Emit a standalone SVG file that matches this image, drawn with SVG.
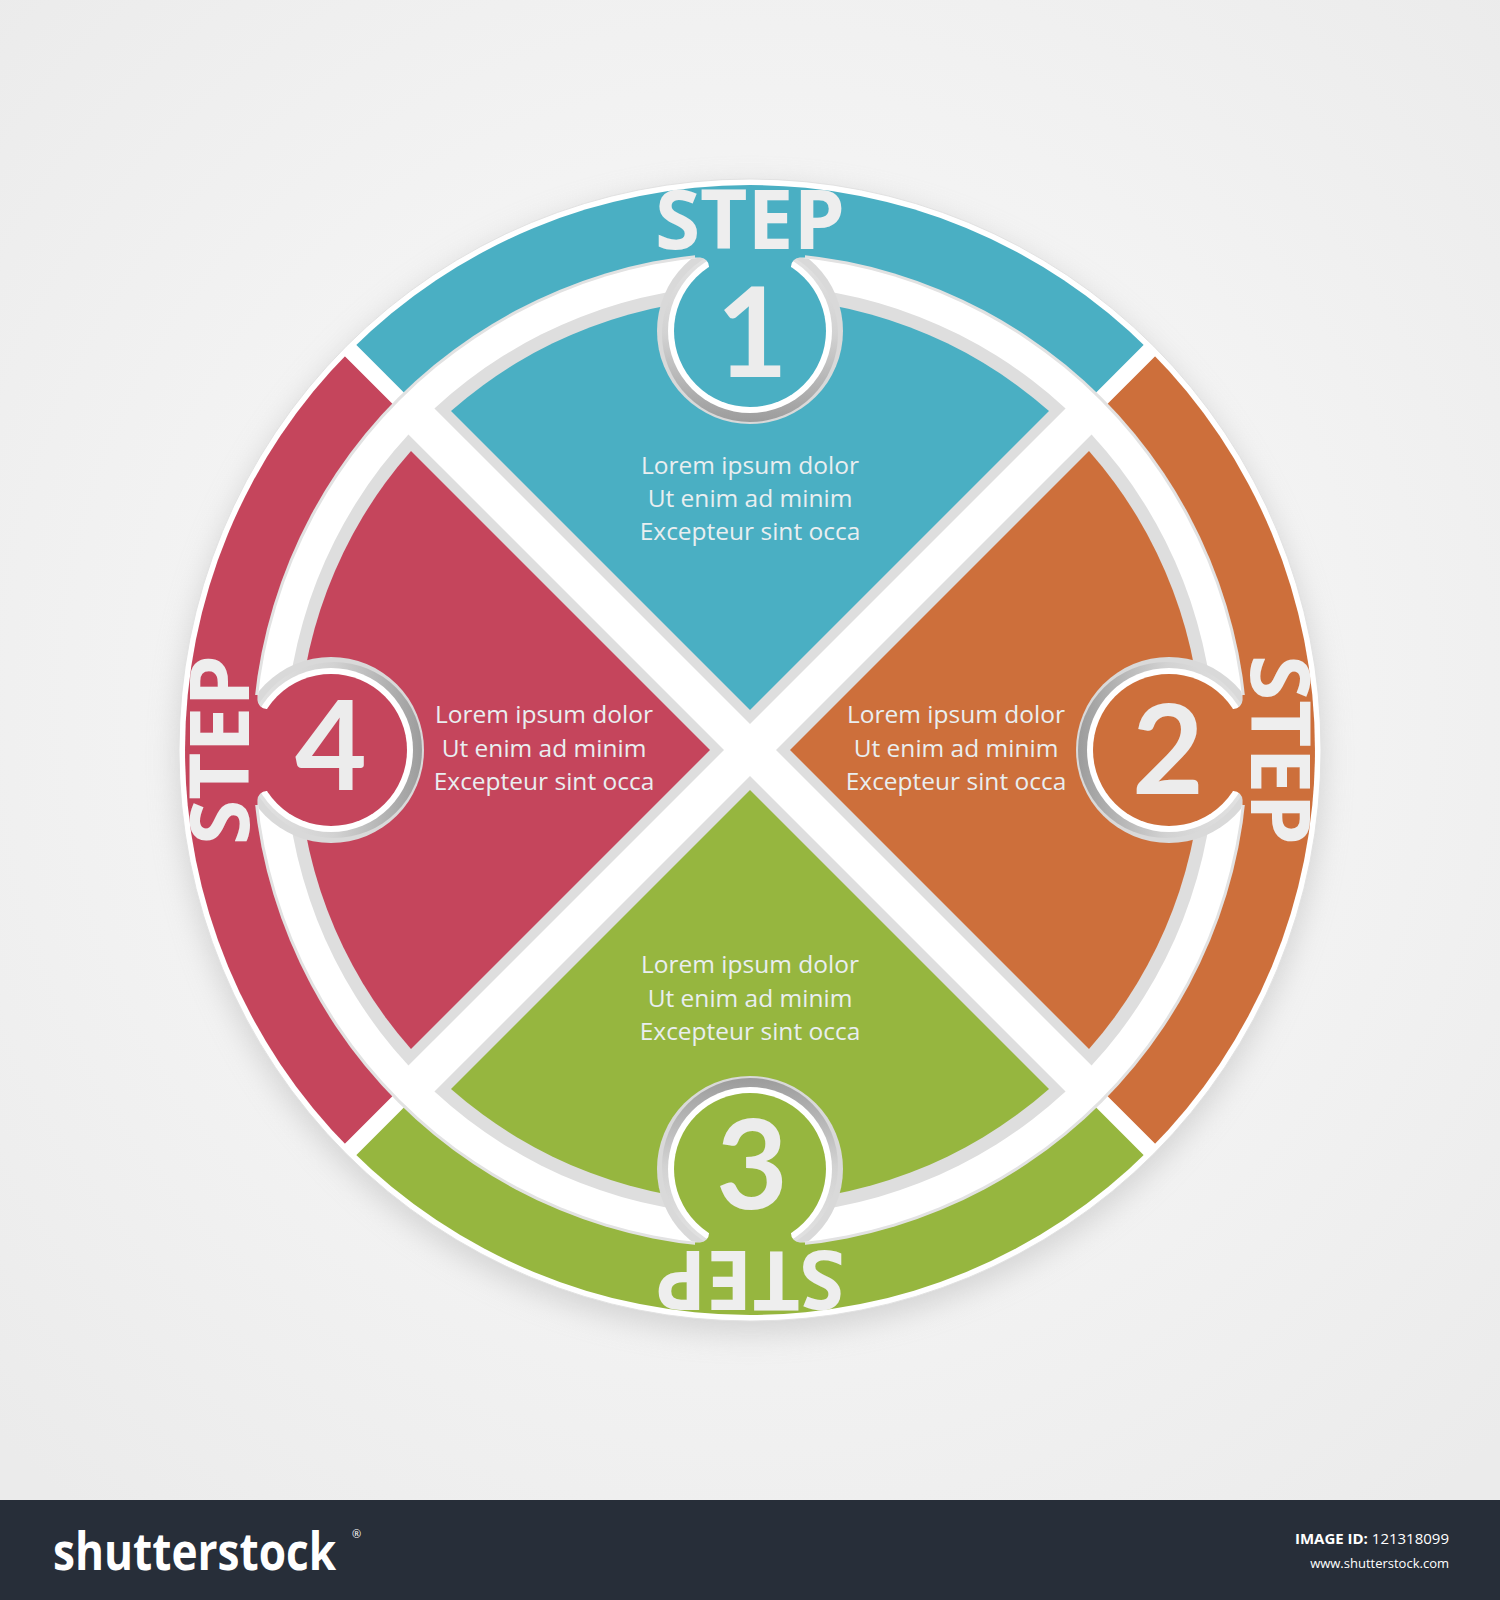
<svg xmlns="http://www.w3.org/2000/svg" xmlns:xlink="http://www.w3.org/1999/xlink" width="1500" height="1600" viewBox="0 0 1500 1600">
<defs>
<style>
.step{font-family:"Open Sans","Liberation Sans",sans-serif;font-weight:700;font-size:82px;fill:#eeeeee;text-anchor:middle}
.num{font-family:Lato,"Open Sans","Liberation Sans",sans-serif;font-weight:700;font-size:124px;fill:#ececec;text-anchor:middle}
.lorem{font-family:"Open Sans","Liberation Sans",sans-serif;font-size:24.5px;fill:#e9eef0;text-anchor:middle}
.ftr{font-family:"Open Sans","Liberation Sans",sans-serif;fill:#ffffff}
</style>
<radialGradient id="bg" cx="0.5" cy="0.47" r="0.7">
<stop offset="0" stop-color="#fcfcfc"/>
<stop offset="1" stop-color="#ebebeb"/>
</radialGradient>
<linearGradient id="shade" x1="0" y1="0" x2="0" y2="1">
<stop offset="0" stop-color="#e4e4e4"/>
<stop offset="0.5" stop-color="#d2d2d2"/>
<stop offset="1" stop-color="#9c9c9c"/>
</linearGradient>
<filter id="blur" x="-10%" y="-10%" width="120%" height="120%">
<feGaussianBlur stdDeviation="14"/>
</filter>
<clipPath id="ringClip"><circle cx="750" cy="750" r="495"/></clipPath>
<path id="grayWedge" d="M750,724 L434.45,408.45 A465,465 0 0 1 1065.55,408.45 Z" fill="#dedede"/>
<path id="wedge" d="M750,710 L451.01,411.01 A452,452 0 0 1 1048.99,411.01 Z"/>
<g id="badge">
<g clip-path="url(#ringClip)">
<circle cx="750" cy="331" r="93" fill="#d9d9d9"/>
<circle cx="750" cy="334" r="88" fill="url(#shade)"/>
<circle cx="750" cy="331" r="82" fill="#ffffff"/>
</g>
<circle cx="750" cy="331" r="76" fill="currentColor"/>
<path d="M695,235 L805,235 L805,257.5 L800,257.5 A9,9 0 0 0 791,266.5 L791,300 L709,300 L709,266.5 A9,9 0 0 0 700,257.5 L695,257.5 Z" fill="currentColor"/>
<text class="step" x="750" y="249">STEP</text>
</g>
</defs>

<g id="background">
<rect x="0" y="0" width="1500" height="1500" fill="url(#bg)"/>
<circle cx="750" cy="760" r="574" fill="#bdbdbd" opacity="0.55" filter="url(#blur)"/>
<circle cx="750" cy="750" r="571" fill="#ffffff" stroke="#e2e2e2" stroke-width="1"/>
</g>

<g id="outer-ring">
<path d="M750,750 L350.5,350.5 A565,565 0 0 1 1149.5,350.5 Z" fill="#4aafc3"/>
<path d="M750,750 L1149.5,350.5 A565,565 0 0 1 1149.5,1149.5 Z" fill="#cd6f3b"/>
<path d="M750,750 L1149.5,1149.5 A565,565 0 0 1 350.5,1149.5 Z" fill="#96b63f"/>
<path d="M750,750 L350.5,1149.5 A565,565 0 0 1 350.5,350.5 Z" fill="#c5455c"/>
<path d="M350,350 L1150,1150 M1150,350 L350,1150" stroke="#ffffff" stroke-width="16"/>
<circle cx="750" cy="750" r="498" fill="#e2e2e2"/>
<circle cx="750" cy="750" r="495" fill="#ffffff"/>
</g>

<g id="step-1" style="color:#4aafc3">
<use href="#grayWedge"/>
<use href="#wedge" fill="#4aafc3"/>
<use href="#badge"/>
<text class="num" x="752" y="377">1</text>
<text class="lorem" x="750" y="474">Lorem ipsum dolor</text>
<text class="lorem" x="750" y="507">Ut enim ad minim</text>
<text class="lorem" x="750" y="540">Excepteur sint occa</text>
</g>

<g id="step-2" style="color:#cd6f3b">
<use href="#grayWedge" transform="rotate(90 750 750)"/>
<use href="#wedge" fill="#cd6f3b" transform="rotate(90 750 750)"/>
<use href="#badge" transform="rotate(90 750 750)"/>
<text class="num" x="1168" y="794">2</text>
<text class="lorem" x="956" y="723">Lorem ipsum dolor</text>
<text class="lorem" x="956" y="757">Ut enim ad minim</text>
<text class="lorem" x="956" y="790">Excepteur sint occa</text>
</g>

<g id="step-3" style="color:#96b63f">
<use href="#grayWedge" transform="rotate(180 750 750)"/>
<use href="#wedge" fill="#96b63f" transform="rotate(180 750 750)"/>
<use href="#badge" transform="rotate(180 750 750)"/>
<text class="num" x="752" y="1209">3</text>
<text class="lorem" x="750" y="973">Lorem ipsum dolor</text>
<text class="lorem" x="750" y="1007">Ut enim ad minim</text>
<text class="lorem" x="750" y="1040">Excepteur sint occa</text>
</g>

<g id="step-4" style="color:#c5455c">
<use href="#grayWedge" transform="rotate(270 750 750)"/>
<use href="#wedge" fill="#c5455c" transform="rotate(270 750 750)"/>
<use href="#badge" transform="rotate(270 750 750)"/>
<text class="num" x="331" y="790">4</text>
<text class="lorem" x="544" y="723">Lorem ipsum dolor</text>
<text class="lorem" x="544" y="757">Ut enim ad minim</text>
<text class="lorem" x="544" y="790">Excepteur sint occa</text>
</g>

<g id="footer">
<rect x="0" y="1500" width="1500" height="100" fill="#272e39"/>
<text class="ftr" transform="translate(53 1570) scale(0.85 1)" x="0" y="0" font-size="52" font-weight="700">shutterstock</text>
<text class="ftr" x="352" y="1538" font-size="11">®</text>
<text class="ftr" x="1449" y="1544" font-size="15" text-anchor="end"><tspan font-weight="700">IMAGE ID:</tspan> 121318099</text>
<text class="ftr" x="1449" y="1568" font-size="13" text-anchor="end" fill="#d8dadd">www.shutterstock.com</text>
</g>
</svg>
